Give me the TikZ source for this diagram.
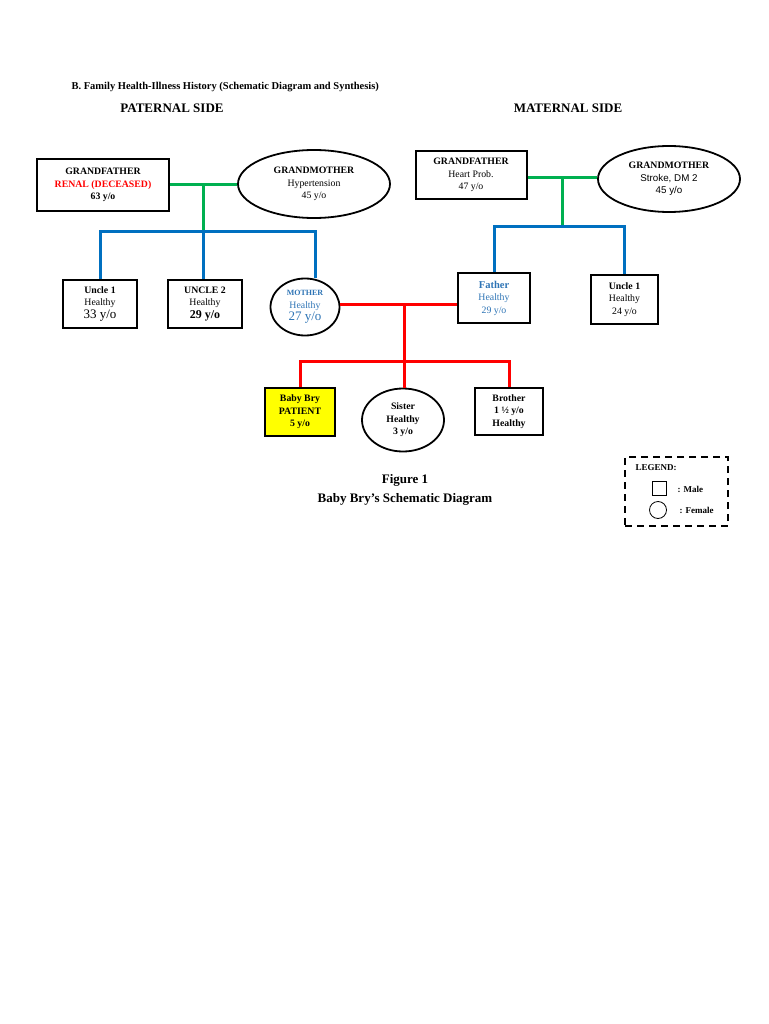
\documentclass[tikz,border=0pt]{standalone}
\usepackage{fontspec}
\setmainfont{Liberation Serif}
\newfontfamily\sansf{Liberation Sans}
\usetikzlibrary{shapes.geometric}
\definecolor{gr}{RGB}{0,176,80}
\definecolor{bl}{RGB}{0,112,192}
\definecolor{rd}{RGB}{255,0,0}
\definecolor{lb}{RGB}{46,116,181}
\definecolor{yl}{RGB}{255,255,0}
\begin{document}
\begin{tikzpicture}[x=1pt,y=-1pt,
  t/.style={font=\fontsize{9.8}{12.5}\selectfont,align=center,inner sep=0pt},
  box/.style={draw,line width=2pt,minimum width=#1,inner sep=0pt},
  ell/.style={draw,ellipse,line width=1.8pt,inner sep=0pt},
  g/.style={gr,line width=3pt},
  b/.style={bl,line width=3pt},
  r/.style={rd,line width=3pt}]
\useasboundingbox (0,0) rectangle (768,1024);
\node[anchor=west,font=\fontsize{10.5}{12}\selectfont\bfseries] (ttl) at (68,87) {B. Family Health-Illness History (Schematic Diagram and Synthesis)};
\node[font=\fontsize{13}{15}\selectfont\bfseries] (ps) at (172,108) {PATERNAL SIDE};
\node[font=\fontsize{13}{15}\selectfont\bfseries] (ms) at (568,108) {MATERNAL SIDE};
% paternal
\node[box=132pt,minimum height=52pt,t] (pgf) at (103,185) {\textbf{GRANDFATHER}\\\textcolor{rd}{\textbf{RENAL (DECEASED)}}\\\textbf{63 y/o}};
\node[ell,minimum width=152pt,minimum height=68pt,t] (pgm) at (314,184) {\textbf{GRANDMOTHER}\\Hypertension\\45 y/o};
\node[box=74pt,minimum height=48pt,t] (pu1) at (100,304) {\textbf{Uncle 1}\\Healthy\\{\fontsize{13}{15}\selectfont 33 y/o}};
\node[box=74pt,minimum height=48pt,t] (pu2) at (205,304) {\textbf{UNCLE 2}\\Healthy\\{\fontsize{12}{14}\selectfont\bfseries 29 y/o}};
\node[ell,minimum width=69pt,minimum height=57pt,t,text=lb] (mom) at (305,307) {{\fontsize{8}{9.5}\selectfont\bfseries MOTHER}\\Healthy\\{\fontsize{13}{15}\selectfont 27 y/o}};
\coordinate (pj) at (203,185);
\coordinate (pk) at (203,232);
\draw[g] (pgf.east|-pj) -- (pgm.west|-pj);
\draw[g] (pj) -- (pk);
\draw[b] (pu1.north) |- (pk) -| (mom.north-|315,0);
\draw[b] (pk) -- (pk|-pu2.north);
% maternal
\node[box=111pt,minimum height=48pt,t] (mgf) at (471,175) {\textbf{GRANDFATHER}\\Heart Prob.\\47 y/o};
\node[ell,minimum width=142pt,minimum height=66pt,t] (mgm) at (669,179) {\textbf{GRANDMOTHER}\\{\sansf Stroke, DM 2}\\{\sansf 45 y/o}};
\node[box=72pt,minimum height=50pt,t,text=lb] (fa) at (494,298) {{\fontsize{10.5}{12}\selectfont\bfseries Father}\\Healthy\\29 y/o};
\node[box=67pt,minimum height=49pt,t] (mu1) at (624.5,299.5) {\textbf{Uncle 1}\\Healthy\\24 y/o};
\coordinate (mj) at (562,178);
\coordinate (mk) at (562,227);
\draw[g] (mgf.east|-mj) -- (mgm.west|-mj);
\draw[g] (mj) -- (mk);
\draw[b] (fa.north) |- (mk) -| (mu1.north);
% children
\node[box=70pt,minimum height=48pt,fill=yl,t] (baby) at (300,412) {\textbf{Baby Bry}\\\textbf{PATIENT}\\\textbf{5 y/o}};
\node[ell,minimum width=82pt,minimum height=63pt,t] (sis) at (403,420) {\textbf{Sister}\\\textbf{Healthy}\\\textbf{3 y/o}};
\node[box=68pt,minimum height=47pt,t] (bro) at (509,411.5) {\textbf{Brother}\\\textbf{1 ½ y/o}\\\textbf{Healthy}};
\coordinate (cj) at (404,304);
\coordinate (ck) at (404,361);
\draw[r] (mom.east|-cj) -- (fa.west|-cj);
\draw[r] (cj) -- (ck);
\draw[r] (baby.north) |- (ck) -| (bro.north);
\draw[r] (ck) -- (ck|-sis.north);
\node[font=\fontsize{13}{19}\selectfont\bfseries,align=center] (fig) at (405,490) {Figure 1\\Baby Bry’s Schematic Diagram};
% legend
\node[draw,line width=1.8pt,dash pattern=on 7pt off 5pt,minimum width=103pt,minimum height=69pt] (leg) at (676.5,491.5) {};
\node[anchor=west,font=\fontsize{9}{10}\selectfont\bfseries] (lt) at (632,468) {LEGEND:};
\node[draw,line width=0.8pt,minimum size=14pt,inner sep=0pt] (lsq) at (659,488) {};
\node[anchor=west,font=\fontsize{9}{10}\selectfont\bfseries] (lm) at (674,489) {: Male};
\node[draw,circle,line width=0.8pt,minimum size=17pt,inner sep=0pt] (lci) at (658,510) {};
\node[anchor=west,font=\fontsize{9}{10}\selectfont\bfseries] (lf) at (676,510) {: Female};
\end{tikzpicture}
\end{document}
